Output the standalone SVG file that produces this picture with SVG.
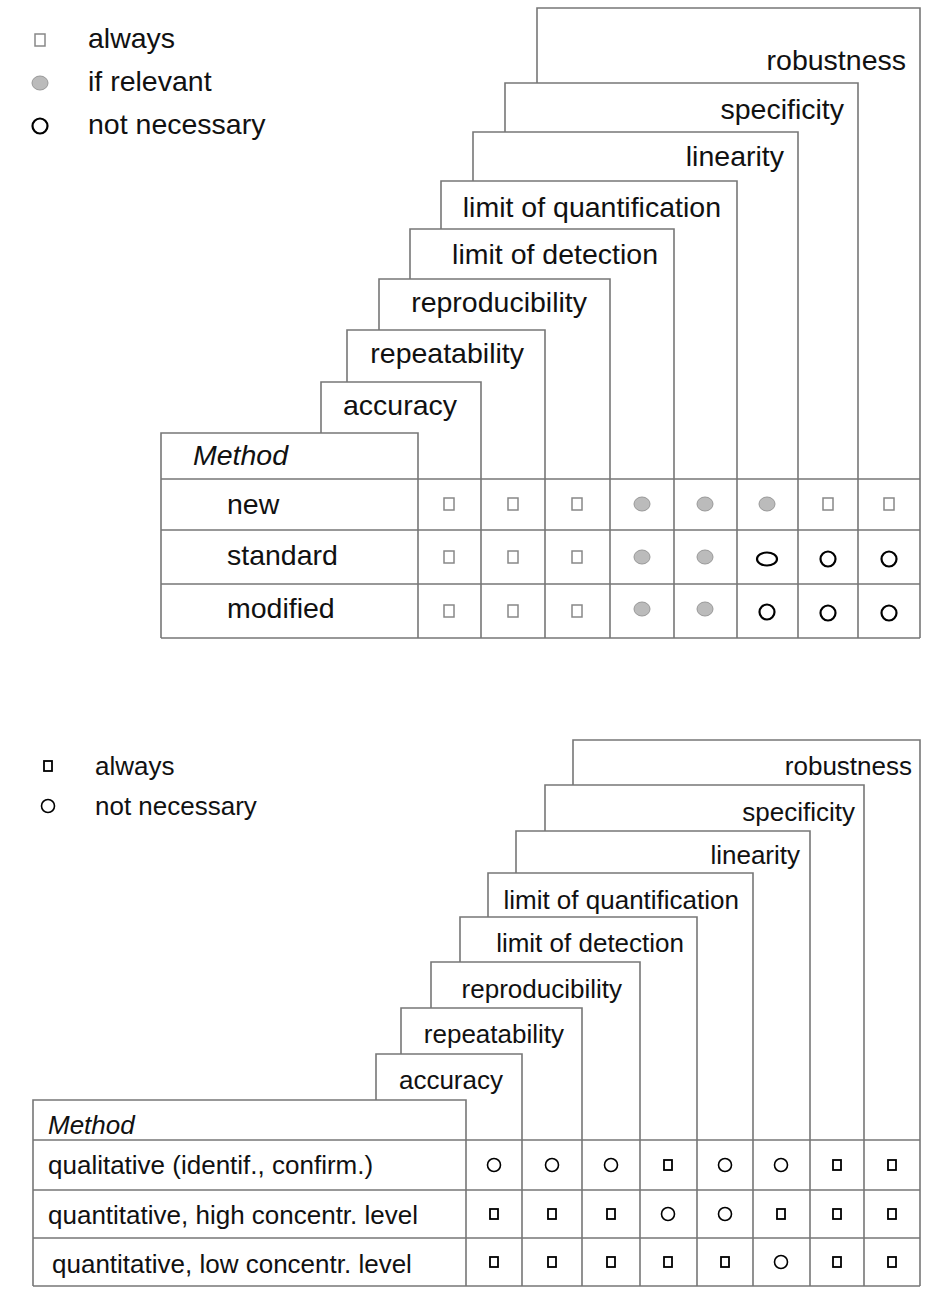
<svg xmlns="http://www.w3.org/2000/svg" width="942" height="1292" viewBox="0 0 942 1292">
<defs>
<style>
.ln{fill:none;stroke:#777;stroke-width:1.6}
text{font-family:"Liberation Sans",Arial,sans-serif;fill:#111}
.t1{font-size:28.5px}
.t2{font-size:26px}
.sq{fill:#fff;stroke:#888;stroke-width:1.5}
.gr{fill:#bbb;stroke:#999;stroke-width:1}
.ci{fill:none;stroke:#000;stroke-width:2.2}
.sqb{fill:#fff;stroke:#000;stroke-width:1.8}
.cib{fill:none;stroke:#000;stroke-width:1.6}
</style>
<rect id="s" class="sq" x="-5" y="-6" width="10" height="12"/>
<ellipse id="g" class="gr" cx="0" cy="0" rx="8" ry="7"/>
<ellipse id="c" class="ci" cx="0" cy="0" rx="7.5" ry="7.5"/>
<rect id="sb" class="sqb" x="-4" y="-5" width="8" height="10"/>
<ellipse id="cb" class="cib" cx="0" cy="0" rx="6.5" ry="6.5"/>
</defs>
<rect width="942" height="1292" fill="#fff"/>
<g id="legend-top">
<use href="#s" x="40" y="40"/><text class="t1" x="88" y="48">always</text>
<use href="#g" x="40" y="83"/><text class="t1" x="88" y="91">if relevant</text>
<use href="#c" x="40" y="126"/><text class="t1" x="88" y="134">not necessary</text>
</g>
<g id="connectors">
<path class="ln" d="M537,83V8H920V638 M505,132V83H858V638 M473,181V132H798V638 M441,229V181H737V638 M410,279V229H674V638 M379,330V279H610V638 M347,382V330H545V638 M321,433V382H481V638 M161,638V433H418V638 M161,479H920 M161,530H920 M161,584H920 M161,638H920"/>
<path class="ln" d="M573,785V740H920V1286 M545,831V785H864V1286 M516,873V831H810V1286 M488,917V873H753V1286 M460,962V917H697V1286 M431,1008V962H640V1286 M401,1054V1008H582V1286 M376,1100V1054H522V1286 M33,1286V1100H466V1286 M33,1140H920 M33,1190H920 M33,1238H920 M33,1286H920"/>
</g>
<g id="headers-top" class="t1">
<text x="906" y="70" text-anchor="end">robustness</text>
<text x="844" y="119" text-anchor="end">specificity</text>
<text x="784" y="166" text-anchor="end">linearity</text>
<text x="721" y="217" text-anchor="end">limit of quantification</text>
<text x="658" y="264" text-anchor="end">limit of detection</text>
<text x="587" y="312" text-anchor="end">reproducibility</text>
<text x="524" y="363" text-anchor="end">repeatability</text>
<text x="457" y="415" text-anchor="end">accuracy</text>
<text x="193" y="465" font-style="italic">Method</text>
<text x="227" y="514">new</text>
<text x="227" y="565">standard</text>
<text x="227" y="618">modified</text>
</g>
<g id="cells-top">
<use href="#s" x="449" y="504"/><use href="#s" x="513" y="504"/><use href="#s" x="577" y="504"/><use href="#g" x="642" y="504"/><use href="#g" x="705" y="504"/><use href="#g" x="767" y="504"/><use href="#s" x="828" y="504"/><use href="#s" x="889" y="504"/>
<use href="#s" x="449" y="557"/><use href="#s" x="513" y="557"/><use href="#s" x="577" y="557"/><use href="#g" x="642" y="557"/><use href="#g" x="705" y="557"/><ellipse class="ci" cx="767" cy="559" rx="10" ry="6.5"/><use href="#c" x="828" y="559"/><use href="#c" x="889" y="559"/>
<use href="#s" x="449" y="611"/><use href="#s" x="513" y="611"/><use href="#s" x="577" y="611"/><use href="#g" x="642" y="609"/><use href="#g" x="705" y="609"/><use href="#c" x="767" y="612"/><use href="#c" x="828" y="613"/><use href="#c" x="889" y="613"/>
</g>
<g id="legend-bottom">
<use href="#sb" x="48" y="766"/><text class="t2" x="95" y="775">always</text>
<use href="#cb" x="48" y="806"/><text class="t2" x="95" y="815">not necessary</text>
</g>
<g id="headers-bottom" class="t2">
<text x="912" y="775" text-anchor="end">robustness</text>
<text x="855" y="821" text-anchor="end">specificity</text>
<text x="800" y="864" text-anchor="end">linearity</text>
<text x="739" y="909" text-anchor="end">limit of quantification</text>
<text x="684" y="952" text-anchor="end">limit of detection</text>
<text x="622" y="998" text-anchor="end">reproducibility</text>
<text x="564" y="1043" text-anchor="end">repeatability</text>
<text x="503" y="1089" text-anchor="end">accuracy</text>
<text x="48" y="1134" font-style="italic">Method</text>
<text x="48" y="1174">qualitative (identif., confirm.)</text>
<text x="48" y="1224">quantitative, high concentr. level</text>
<text x="52" y="1273">quantitative, low concentr. level</text>
</g>
<g id="cells-bottom">
<use href="#cb" x="494" y="1165"/><use href="#cb" x="552" y="1165"/><use href="#cb" x="611" y="1165"/><use href="#sb" x="668" y="1165"/><use href="#cb" x="725" y="1165"/><use href="#cb" x="781" y="1165"/><use href="#sb" x="837" y="1165"/><use href="#sb" x="892" y="1165"/>
<use href="#sb" x="494" y="1214"/><use href="#sb" x="552" y="1214"/><use href="#sb" x="611" y="1214"/><use href="#cb" x="668" y="1214"/><use href="#cb" x="725" y="1214"/><use href="#sb" x="781" y="1214"/><use href="#sb" x="837" y="1214"/><use href="#sb" x="892" y="1214"/>
<use href="#sb" x="494" y="1262"/><use href="#sb" x="552" y="1262"/><use href="#sb" x="611" y="1262"/><use href="#sb" x="668" y="1262"/><use href="#sb" x="725" y="1262"/><use href="#cb" x="781" y="1262"/><use href="#sb" x="837" y="1262"/><use href="#sb" x="892" y="1262"/>
</g>
</svg>
